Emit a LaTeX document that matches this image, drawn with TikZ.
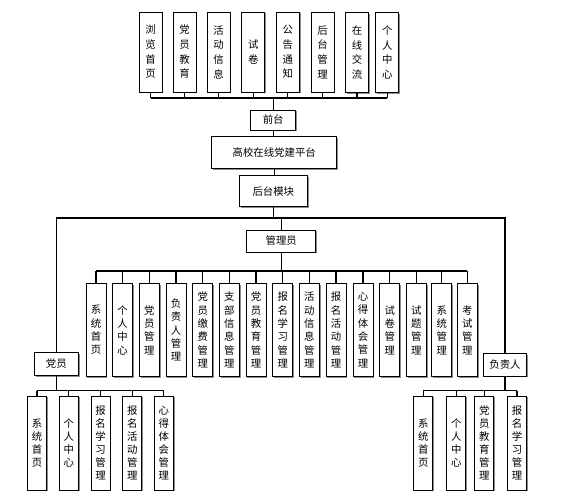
\documentclass[tikz,border=0pt]{standalone}
\usepackage{fontspec}
\newfontfamily\cjk{Noto Sans CJK SC}
\usetikzlibrary{shadows}
\begin{document}
\begin{tikzpicture}[x=0.75pt,y=-0.75pt,
  bx/.style={draw=black, line width=0.6pt, fill=white, inner sep=0pt, align=center,
    font=\cjk\fontsize{7.8}{10}\selectfont,
    drop shadow={shadow xshift=0.9pt, shadow yshift=-0.9pt, fill=black!45, opacity=1}},
  sz/.style 2 args={minimum width=#1*0.75pt, minimum height=#2*0.75pt},
  topbx/.style={bx, sz={23}{80}, font=\cjk\fontsize{7.8}{11}\selectfont},
  midbx/.style={bx, sz={20}{93}, font=\cjk\fontsize{7.8}{10}\selectfont},
  botbx/.style={bx, sz={19}{94}, font=\cjk\fontsize{7.8}{9.8}\selectfont},
  ln/.style={line width=0.9pt, draw=black}]
\useasboundingbox (0,0) rectangle (583,504);
% top row
\node[topbx] (t1) at (150.5,52) {浏\\览\\首\\页};
\node[topbx] (t2) at (184.5,52) {党\\员\\教\\育};
\node[topbx] (t3) at (218.5,52) {活\\动\\信\\息};
\node[topbx] (t4) at (253.3,52) {试\\卷};
\node[topbx] (t5) at (287.8,52) {公\\告\\通\\知};
\node[topbx] (t6) at (322.5,52) {后\\台\\管\\理};
\node[topbx] (t7) at (357,52.5) {在\\线\\交\\流};
\node[topbx] (t8) at (387.3,52.5) {个\\人\\中\\心};
\coordinate (tb) at (0,98);
% center column
\node[bx, sz={45}{20}] (qt) at (273.2,120) {前台};
\node[bx, sz={125}{31.6}] (pt) at (274.2,152.5) {高校在线党建平台};
\node[bx, sz={68}{31}] (ht) at (273.3,191.2) {后台模块};
\coordinate (hl) at (0,218);
\node[bx, sz={69}{22}] (gl) at (281.2,241) {管理员};
\coordinate (mb) at (0,271);
% middle row
\node[midbx] (m1) at (96,330) {系\\统\\首\\页};
\node[midbx] (m2) at (122.5,330) {个\\人\\中\\心};
\node[midbx] (m3) at (149.3,330) {党\\员\\管\\理};
\node[midbx] (m4) at (176,330) {负\\责\\人\\管\\理};
\node[midbx] (m5) at (202.7,330) {党\\员\\缴\\费\\管\\理};
\node[midbx] (m6) at (229.3,330) {支\\部\\信\\息\\管\\理};
\node[midbx] (m7) at (256,330) {党\\员\\教\\育\\管\\理};
\node[midbx] (m8) at (282.7,330) {报\\名\\学\\习\\管\\理};
\node[midbx] (m9) at (309.3,330) {活\\动\\信\\息\\管\\理};
\node[midbx] (m10) at (336,330) {报\\名\\活\\动\\管\\理};
\node[midbx] (m11) at (363,330) {心\\得\\体\\会\\管\\理};
\node[midbx] (m12) at (389.7,330) {试\\卷\\管\\理};
\node[midbx] (m13) at (416.3,330) {试\\题\\管\\理};
\node[midbx] (m14) at (441.7,330) {系\\统\\管\\理};
\node[midbx] (m15) at (467.3,330) {考\\试\\管\\理};
% side heads
\node[bx, sz={44}{23.4}] (dy) at (56.3,364) {党员};
\node[bx, sz={43.4}{22.7}] (fz) at (505,364.7) {负责人};
\coordinate (bb) at (0,390.5);
% bottom left
\node[botbx] (l1) at (37,443) {系\\统\\首\\页};
\node[botbx] (l2) at (68.8,443) {个\\人\\中\\心};
\node[botbx] (l3) at (100.5,443) {报\\名\\学\\习\\管\\理};
\node[botbx] (l4) at (132.2,443) {报\\名\\活\\动\\管\\理};
\node[botbx] (l5) at (163.8,443) {心\\得\\体\\会\\管\\理};
% bottom right
\node[botbx] (r1) at (423.3,443) {系\\统\\首\\页};
\node[botbx] (r2) at (456.2,443) {个\\人\\中\\心};
\node[botbx] (r3) at (484.2,443) {党\\员\\教\\育\\管\\理};
\node[botbx] (r4) at (517,443) {报\\名\\学\\习\\管\\理};
% connectors top
\foreach \n in {t1,t2,t3,t4,t5,t6,t7,t8}
  \draw[ln] (\n.south) -- (\n.south |- tb);
\draw[ln] (t1.south |- tb) -- (t8.south |- tb);
\draw[ln] (qt.north) -- (qt.north |- tb);
\draw[ln] (qt.south) -- (qt.south |- pt.north);
\draw[ln] (pt.south) -- (pt.south |- ht.north);
\draw[ln] (ht.south) -- (ht.south |- hl);
\draw[ln] (dy.north) -- (dy.north |- hl) -- (fz.north |- hl) -- (fz.north);
\draw[ln] (gl.north) -- (gl.north |- hl);
% middle
\draw[ln] (gl.south) -- (gl.south |- mb);
\foreach \n in {m1,m2,m3,m4,m5,m6,m7,m8,m9,m10,m11,m12,m13,m14,m15}
  \draw[ln] (\n.north) -- (\n.north |- mb);
\draw[ln] (m1.north |- mb) -- (m15.north |- mb);
% bottom left
\draw[ln] (dy.south) -- (dy.south |- bb);
\foreach \n in {l1,l2,l3,l4,l5}
  \draw[ln] (\n.north) -- (\n.north |- bb);
\draw[ln] (l1.north |- bb) -- (l5.north |- bb);
% bottom right
\draw[ln] (fz.south) -- (fz.south |- bb);
\foreach \n in {r1,r2,r3,r4}
  \draw[ln] (\n.north) -- (\n.north |- bb);
\draw[ln] (r1.north |- bb) -- (r4.north |- bb);
\end{tikzpicture}
\end{document}
